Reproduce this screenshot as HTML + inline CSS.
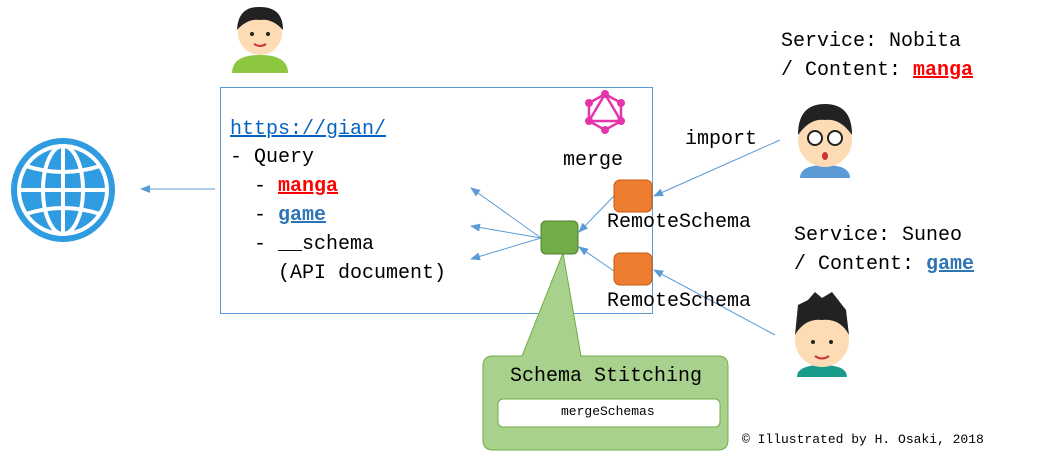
<!DOCTYPE html>
<html><head><meta charset="utf-8"><style>
body{margin:0;width:1052px;height:461px;background:#fff;overflow:hidden;position:relative;font-family:"Liberation Mono","Noto Sans CJK JP",monospace;}
.t{position:absolute;font-size:20px;line-height:22px;white-space:pre;color:#000;}
.red{color:#f00;font-weight:bold;text-decoration:underline;}
.blue{color:#2e75b6;font-weight:bold;text-decoration:underline;}
</style></head><body>
<svg width="1052" height="461" style="position:absolute;left:0;top:0">
<defs><marker id="a" markerWidth="10" markerHeight="8" refX="9" refY="4" orient="auto" markerUnits="userSpaceOnUse"><path d="M0,0 L10,4 L0,8 z" fill="#5b9bd5"/></marker></defs>
<!-- globe -->
<g stroke="#fff" stroke-width="4" fill="none">
<circle cx="63" cy="190" r="52" fill="#2f9be0" stroke="none"/>
<circle cx="63" cy="190" r="44"/>
<ellipse cx="63" cy="190" rx="20" ry="44"/>
<line x1="63" y1="146" x2="63" y2="234"/>
<line x1="19" y1="190" x2="107" y2="190"/>
<path d="M26,166 Q63,178 100,166"/><path d="M26,214 Q63,202 100,214"/>
</g>
<rect x="220.5" y="87.5" width="432" height="226" fill="none" stroke="#5b9bd5"/>
<g stroke="#5b9bd5" stroke-width="1" marker-end="url(#a)">
<line x1="215" y1="189" x2="141" y2="189"/>
<line x1="541" y1="238" x2="471" y2="188"/>
<line x1="541" y1="238" x2="471" y2="226"/>
<line x1="541" y1="238" x2="471" y2="259"/>
<line x1="614" y1="196" x2="579" y2="232"/>
<line x1="614" y1="271" x2="579" y2="247"/>
<line x1="780" y1="140" x2="654" y2="196"/>
<line x1="775" y1="335" x2="654" y2="270"/>
</g>
<!-- graphql logo -->
<g stroke="#e535ab" stroke-width="2.5" fill="none">
<polygon points="605,94 621,103 621,121 605,130 589,121 589,103"/>
<polygon points="605,94 621,121 589,121"/>
</g>
<g fill="#e535ab"><circle cx="605" cy="94" r="4"/><circle cx="621" cy="103" r="4"/><circle cx="621" cy="121" r="4"/><circle cx="605" cy="130" r="4"/><circle cx="589" cy="121" r="4"/><circle cx="589" cy="103" r="4"/></g>
<rect x="614" y="180" width="38" height="32" rx="6" fill="#ed7d31" stroke="#c55a11"/>
<rect x="614" y="253" width="38" height="32" rx="6" fill="#ed7d31" stroke="#c55a11"/>
<!-- callout -->
<path d="M563,253 L581,356 L718,356 Q728,356 728,366 L728,440 Q728,450 718,450 L493,450 Q483,450 483,440 L483,366 Q483,356 493,356 L522,356 Z" fill="#a9d18e" stroke="#70ad47"/>
<rect x="541" y="221" width="37" height="33" rx="5" fill="#70ad47" stroke="#507e32"/>
<rect x="498" y="399" width="222" height="28" rx="5" fill="#fff" stroke="#70ad47"/>
<!-- top person -->
<path d="M232,73 Q232,55 260,55 Q288,55 288,73 Z" fill="#8dc63f"/>
<circle cx="260" cy="33" r="22" fill="#fddcb5"/>
<path d="M237,30 Q238,6 260,7 Q283,7 283,30 Q272,18 260,20 Q248,18 237,30Z" fill="#222"/>
<circle cx="252" cy="34" r="2" fill="#222"/><circle cx="268" cy="34" r="2" fill="#222"/>
<path d="M254,44 Q260,48 266,44" stroke="#c33" stroke-width="2" fill="none"/>
<!-- nobita -->
<path d="M800,178 Q800,165 825,165 Q850,165 850,178 Z" fill="#5b9bd5"/>
<circle cx="825" cy="140" r="27" fill="#fddcb5"/>
<path d="M798,135 Q798,104 825,104 Q852,104 852,135 Q840,118 825,120 Q810,118 798,135Z" fill="#222"/>
<circle cx="815" cy="138" r="7" fill="#fff" stroke="#222" stroke-width="2"/><circle cx="835" cy="138" r="7" fill="#fff" stroke="#222" stroke-width="2"/>
<ellipse cx="825" cy="156" rx="3" ry="4" fill="#c33"/>
<!-- suneo -->
<path d="M797,377 Q797,365 822,365 Q847,365 847,377 Z" fill="#1a9a8a"/>
<circle cx="822" cy="340" r="27" fill="#fddcb5"/>
<path d="M795,335 L798,305 L808,300 L815,292 L822,298 L832,292 L846,310 L849,335 Q840,318 822,320 Q805,318 795,335Z" fill="#222"/>
<circle cx="813" cy="342" r="2" fill="#222"/><circle cx="831" cy="342" r="2" fill="#222"/>
<path d="M815,356 Q822,361 829,356" stroke="#c33" stroke-width="2" fill="none"/>
</svg>
<div class="t" style="left:230px;top:119px;color:#0563c1;text-decoration:underline">https://gian/</div>
<div class="t" style="left:230px;top:147px">- Query</div>
<div class="t" style="left:254px;top:176px">- <span class="red">manga</span></div>
<div class="t" style="left:254px;top:205px">- <span class="blue">game</span></div>
<div class="t" style="left:254px;top:234px">- __schema</div>
<div class="t" style="left:278px;top:263px">(API document)</div>
<div class="t" style="left:563px;top:150px">merge</div>
<div class="t" style="left:607px;top:212px">RemoteSchema</div>
<div class="t" style="left:607px;top:291px">RemoteSchema</div>
<div class="t" style="left:685px;top:129px">import</div>
<div class="t" style="left:781px;top:31px">Service: Nobita</div>
<div class="t" style="left:781px;top:60px">/ Content: <span class="red">manga</span></div>
<div class="t" style="left:794px;top:225px">Service: Suneo</div>
<div class="t" style="left:794px;top:254px">/ Content: <span class="blue">game</span></div>
<div class="t" style="left:510px;top:366px">Schema Stitching</div>
<div class="t" style="left:561px;top:404px;font-size:13px;line-height:16px">mergeSchemas</div>
<div class="t" style="left:742px;top:432px;font-size:13px;line-height:16px">© Illustrated by H. Osaki, 2018</div>
</body></html>
